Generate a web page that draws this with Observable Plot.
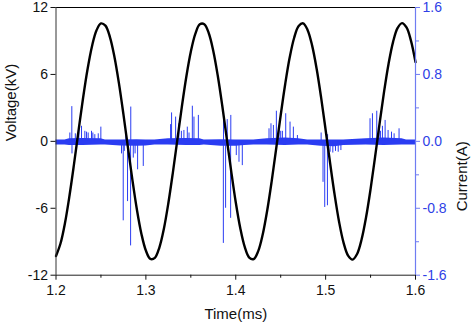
<!DOCTYPE html>
<html>
<head>
<meta charset="utf-8">
<script src="https://cdn.jsdelivr.net/npm/d3@7"></script>
<script src="https://cdn.jsdelivr.net/npm/@observablehq/plot@0.6"></script>
<style>
  html, body { margin: 0; padding: 0; background: #fff; }
  #chart { width: 474px; height: 327px; }
</style>
</head>
<body>
<div id="chart"></div>
<script>
// Voltage (kV)
const voltTime = [
  1.200,1.205,1.210,1.215,1.220,1.225,1.230,1.235,1.240,1.245,
  1.250,1.255,1.260,1.265,1.270,1.275,1.280,1.285,1.290,1.295,
  1.300,1.305,1.310,1.315,1.320,1.325,1.330,1.335,1.340,1.345,
  1.350,1.355,1.360,1.365,1.370,1.375,1.380,1.385,1.390,1.395,
  1.400,1.405,1.410,1.415,1.420,1.425,1.430,1.435,1.440,1.445,
  1.450,1.455,1.460,1.465,1.470,1.475,1.480,1.485,1.490,1.495,
  1.500,1.505,1.510,1.515,1.520,1.525,1.530,1.535,1.540,1.545,
  1.550,1.555,1.560,1.565,1.570,1.575,1.580,1.585,1.590,1.595,
  1.600
];
const voltValue = [
  -10.28,-9.16,-7.32,-4.88,-2.07,0.91,3.82,6.42,8.51,9.94,
  10.57,10.37,9.35,7.59,5.22,2.44,-0.52,-3.45,-6.11,-8.28,
  -9.79,-10.54,-10.44,-9.52,-7.85,-5.55,-2.82,0.14,3.09,5.79,
  8.03,9.64,10.49,10.50,9.69,8.11,5.88,3.19,0.25,-2.71,
  -5.46,-7.77,-9.47,-10.42,-10.55,-9.84,-8.35,-6.20,-3.56,-0.64,
  2.34,5.12,7.51,9.29,10.34,10.58,9.97,8.58,6.51,3.92,
  1.02,-1.96,-4.78,-7.23,-9.10,-10.25,-10.60,-10.10,-8.80,-6.81,
  -4.28,-1.41,1.58,4.43,6.94,8.90,10.15,10.60,10.21,9.01,
  7.10
];

// Current (A): baseline noise band
const bandTime = [1.200,1.210,1.215,1.230,1.250,1.255,1.272,1.290,1.300,1.310,1.325,1.345,1.360,1.365,1.384,1.400,1.410,1.420,1.435,1.455,1.470,1.480,1.495,1.510,1.520,1.545,1.565,1.585,1.590,1.600];
const bandLow  = [-0.045,-0.045,-0.05,-0.05,-0.045,-0.045,-0.055,-0.06,-0.055,-0.045,-0.045,-0.05,-0.05,-0.045,-0.06,-0.06,-0.05,-0.045,-0.045,-0.05,-0.045,-0.045,-0.06,-0.065,-0.05,-0.045,-0.05,-0.045,-0.045,-0.045];
const bandHigh = [0.015,0.015,0.03,0.035,0.03,0.015,0.015,0.02,0.015,0.015,0.03,0.035,0.03,0.015,0.02,0.015,0.015,0.015,0.03,0.04,0.03,0.015,0.015,0.015,0.015,0.03,0.04,0.03,0.015,0.015];

// Current (A): discharge spikes
const spikeTime = [
  1.2154,1.2176,1.2178,1.2254,1.2284,1.2321,1.2358,1.2395,1.2432,1.2470,1.2499,1.2215,1.2340,1.2410,
  1.2729,1.2748,1.2777,1.2796,1.2830,1.2832,1.2860,1.2908,1.2971,1.2760,1.2880,
  1.3275,1.3286,1.3331,1.3367,1.3395,1.3423,1.3461,1.3517,1.3535,1.3584,1.3480,
  1.3862,1.3864,1.3887,1.3905,1.3943,1.3945,1.4006,1.4036,1.4073,1.3920,
  1.4370,1.4392,1.4419,1.4452,1.4481,1.4519,1.4556,1.4604,1.4641,1.4686,1.4500,
  1.4950,1.4971,1.4990,1.5020,1.5022,1.5050,1.5080,1.5110,1.5140,1.5170,
  1.5494,1.5521,1.5569,1.5595,1.5632,1.5662,1.5695,1.5733,1.5762,1.5817,1.5610
];
const spikeValue = [
  0.10,0.415,-0.15,0.14,0.18,0.12,0.10,0.12,0.08,0.09,0.17,0.09,0.11,0.10,
  -0.15,-0.95,0.10,-0.72,-1.25,0.41,-0.20,-0.34,-0.30,-0.12,-0.15,
  0.20,0.34,0.29,0.21,0.12,0.13,0.17,0.42,0.29,0.31,0.10,
  -1.22,0.31,-0.80,0.26,-0.92,0.31,-0.17,-0.25,-0.29,-0.14,
  0.15,0.21,0.19,0.36,0.17,0.12,0.33,0.23,0.17,0.07,0.12,
  0.10,-0.49,-0.79,-0.77,0.08,-0.13,-0.14,-0.12,-0.13,-0.11,
  0.27,0.33,0.36,0.13,0.18,0.25,0.13,0.11,0.09,0.15,0.12
];

const xTicks = [1.2, 1.3, 1.4, 1.5, 1.6];
const xMinorTicks = [1.25, 1.35, 1.45, 1.55];
const voltTicks = [-12, -6, 0, 6, 12];
const currentTicks = [-1.6, -0.8, 0, 0.8, 1.6];
const currentMinorTicks = [-1.2, -0.4, 0.4, 1.2];

const ratio = 12 / 1.6; // current -> voltage axis mapping
const blue = "#2a3cf2";
const blueText = "#2f3fe6";

const volt = voltTime.map((t, i) => ({t, v: voltValue[i]}));
const band = bandTime.map((t, i) => ({t, lo: bandLow[i], hi: bandHigh[i]}));
const spikes = spikeTime.map((t, i) => ({t, i: spikeValue[i]}));

const font = "'Liberation Sans', Arial, Helvetica, sans-serif";

const chart = Plot.plot({
  width: 474,
  height: 327,
  marginLeft: 55.5,
  marginRight: 59,
  marginTop: 7,
  marginBottom: 52.3,
  style: {fontFamily: font, fontSize: "13.5px", background: "#fff", color: "#111"},
  x: {domain: [1.2, 1.6]},
  y: {domain: [-12, 12]},
  marks: [
    // current
    Plot.areaY(band, {x: "t", y1: d => d.lo * ratio, y2: d => d.hi * ratio, fill: blue, curve: "linear"}),
    Plot.ruleX(spikes, {x: "t", y1: 0, y2: d => d.i * ratio, stroke: blue, strokeWidth: 1}),
    // voltage
    Plot.line(volt, {x: "t", y: "v", stroke: "#000", strokeWidth: 2.4, curve: "catmull-rom"}),
    // frame lines
    Plot.ruleY([12], {stroke: "#000", strokeWidth: 1}),
    Plot.ruleY([-12], {stroke: "#222", strokeWidth: 1}),
    Plot.ruleX([1.2], {stroke: "#333", strokeWidth: 1}),
    Plot.ruleX([1.6], {stroke: "#6f7cf2", strokeWidth: 1.2}),
    // axes
    Plot.axisX({ticks: xTicks, tickSize: 5, tickPadding: 5, tickFormat: d3.format(".1f"), label: null, fontSize: 14}),
    Plot.axisX({ticks: xMinorTicks, tickSize: 3, tickFormat: () => "", label: null}),
    Plot.axisY({ticks: voltTicks, tickSize: 5, tickPadding: 3, tickFormat: d => d < 0 ? "-" + Math.abs(d) : String(d), label: null, fontSize: 14}),
    Plot.axisY({anchor: "right", ticks: currentTicks.map(c => c * ratio), tickSize: 4, tickPadding: 3,
      tickFormat: d => { const c = d / ratio; return (c < 0 ? "-" : "") + Math.abs(c).toFixed(1); },
      label: null, stroke: "#6f7cf2", color: blueText, fill: blueText, fontSize: 14}),
    Plot.axisY({anchor: "right", ticks: currentMinorTicks.map(c => c * ratio), tickSize: 3, tickFormat: () => "", label: null, stroke: "#6f7cf2"}),
    // axis titles
    Plot.text(["Voltage(kV)"], {frameAnchor: "left", dx: -45, rotate: -90, fontSize: 15, fill: "#111"}),
    Plot.text(["Current(A)"], {frameAnchor: "right", dx: 47, rotate: -90, fontSize: 15, fill: "#111"}),
    Plot.text(["Time(ms)"], {frameAnchor: "bottom", dy: 44, fontSize: 15, fill: "#111"})
  ]
});
document.getElementById("chart").appendChild(chart);
</script>
</body>
</html>
